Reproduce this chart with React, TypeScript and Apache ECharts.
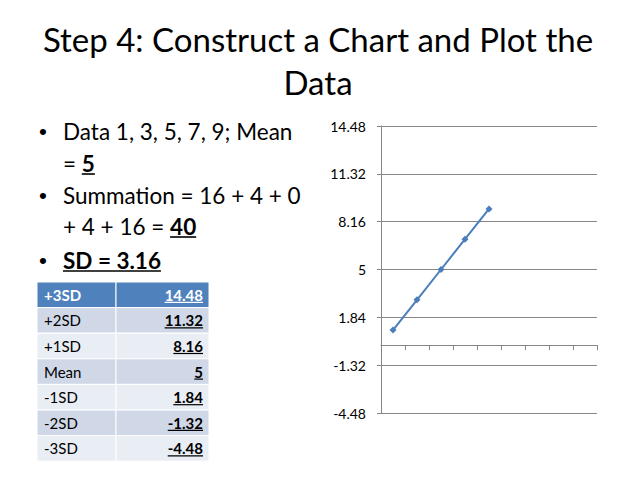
import React, { useEffect, useRef } from "react";
import * as echarts from "echarts";

// ---- data ----
const xCategories = ["1", "2", "3", "4", "5", "6", "7", "8", "9"];
const seriesValues = [1, 3, 5, 7, 9];
const yTickLabels = ["-4.48", "-1.32", "1.84", "5", "8.16", "11.32", "14.48"];
const tableLabels = ["+3SD", "+2SD", "+1SD", "Mean", "-1SD", "-2SD", "-3SD"];
const tableValues = ["14.48", "11.32", "8.16", "5", "1.84", "-1.32", "-4.48"];
const titleLines = ["Step 4: Construct a Chart and Plot the", "Data"];
type Seg = { t: string; b?: boolean; u?: boolean };
const bulletLines: { bullet: boolean; segs: Seg[] }[] = [
  { bullet: true, segs: [{ t: "Data 1, 3, 5, 7, 9; Mean" }] },
  { bullet: false, segs: [{ t: "= " }, { t: "5", b: true, u: true }] },
  { bullet: true, segs: [{ t: "Summation = 16 + 4 + 0" }] },
  { bullet: false, segs: [{ t: "+ 4 + 16 = " }, { t: "40", b: true, u: true }] },
  { bullet: true, segs: [{ t: "SD = 3.16", b: true, u: true }] },
];

const FONT = "Lato";

let measureCtx: CanvasRenderingContext2D | null = null;
function measure(text: string, size: number, bold: boolean): number {
  if (!measureCtx) measureCtx = document.createElement("canvas").getContext("2d");
  if (!measureCtx) return text.length * size * 0.5;
  measureCtx.font = `${bold ? "bold " : ""}${size}px ${FONT}`;
  return measureCtx.measureText(text).width;
}

function buildGraphics(): any[] {
  const els: any[] = [];
  // title
  const titleSize = 33;
  titleLines.forEach((line, i) => {
    els.push({
      type: "text",
      x: 318,
      y: 39 + i * 43,
      style: { text: line, fontFamily: FONT, fontSize: titleSize, fill: "#000", align: "center", verticalAlign: "middle" },
    });
  });
  // bullets
  const bSize = 22.5;
  const lineYs = [131, 163, 195, 226, 260];
  bulletLines.forEach((ln, i) => {
    const y = lineYs[i];
    if (ln.bullet) {
      els.push({
        type: "text",
        x: 43,
        y,
        style: { text: "•", fontFamily: "Arial", fontSize: bSize, fill: "#000", align: "center", verticalAlign: "middle" },
      });
    }
    let x = 63;
    ln.segs.forEach((s) => {
      const w = measure(s.t, bSize, !!s.b);
      els.push({
        type: "text",
        x,
        y,
        style: {
          text: s.t,
          fontFamily: FONT,
          fontSize: bSize,
          fontWeight: s.b ? "bold" : "normal",
          fill: "#000",
          align: "left",
          verticalAlign: "middle",
        },
      });
      if (s.u) {
        els.push({
          type: "line",
          shape: { x1: x, y1: y + 11, x2: x + w, y2: y + 11 },
          style: { stroke: "#000", lineWidth: 1.6 },
        });
      }
      x += w;
    });
  });
  // table
  const tx0 = 37, tx1 = 116, tx2 = 209, ty0 = 282, rh = 25.6;
  const tSize = 15;
  tableLabels.forEach((lab, i) => {
    const y = ty0 + i * rh;
    const fill = i === 0 ? "#4F81BD" : i % 2 === 1 ? "#D0D8E8" : "#E9EDF4";
    const txtColor = i === 0 ? "#fff" : "#000";
    els.push({ type: "rect", shape: { x: tx0, y, width: tx1 - tx0, height: rh }, style: { fill, stroke: "#fff", lineWidth: 1 } });
    els.push({ type: "rect", shape: { x: tx1, y, width: tx2 - tx1, height: rh }, style: { fill, stroke: "#fff", lineWidth: 1 } });
    const cy = y + rh / 2;
    els.push({
      type: "text",
      x: 44,
      y: cy,
      style: { text: lab, fontFamily: FONT, fontSize: tSize, fontWeight: i === 0 ? "bold" : "normal", fill: txtColor, align: "left", verticalAlign: "middle" },
    });
    const v = tableValues[i];
    const w = measure(v, tSize, true);
    els.push({
      type: "text",
      x: 203,
      y: cy,
      style: { text: v, fontFamily: FONT, fontSize: tSize, fontWeight: "bold", fill: txtColor, align: "right", verticalAlign: "middle" },
    });
    els.push({
      type: "line",
      shape: { x1: 203 - w, y1: cy + 7.5, x2: 203, y2: cy + 7.5 },
      style: { stroke: txtColor, lineWidth: 1.2 },
    });
  });
  return els;
}

export default function App() {
  const ref = useRef<HTMLDivElement>(null);
  useEffect(() => {
    if (!ref.current) return;
    const chart = echarts.init(ref.current, undefined, { renderer: "svg" });
    const yVals = yTickLabels.map(Number);
    chart.setOption({
      animation: false,
      backgroundColor: "#fff",
      grid: { left: 381, right: 41, top: 126, bottom: 65, containLabel: false },
      xAxis: {
        type: "category",
        data: xCategories,
        boundaryGap: true,
        axisLine: { show: true, onZero: true, lineStyle: { color: "#868686", width: 1 } },
        axisTick: { show: true, length: 5, lineStyle: { color: "#868686" } },
        axisLabel: { show: false },
        splitLine: { show: false },
      },
      yAxis: {
        type: "value",
        min: yVals[0],
        max: yVals[yVals.length - 1],
        axisLine: { show: true, lineStyle: { color: "#868686", width: 1 } },
        axisTick: { show: true, length: 4, customValues: yVals, lineStyle: { color: "#868686" } },
        axisLabel: {
          customValues: yVals,
          formatter: (v: number) => {
            const idx = yVals.findIndex((t) => Math.abs(t - v) < 1e-6);
            return idx >= 0 ? yTickLabels[idx] : String(v);
          },
          fontFamily: FONT,
          fontSize: 14,
          color: "#000",
          margin: 15,
        },
        splitLine: { show: true, lineStyle: { color: "#868686", width: 1 } },
      },
      series: [
        {
          type: "line",
          data: seriesValues,
          symbol: "diamond",
          symbolSize: 7,
          showSymbol: true,
          color: "#4A7EBB",
          lineStyle: { color: "#4A7EBB", width: 2 },
          itemStyle: { color: "#4A7EBB" },
        },
      ],
      graphic: buildGraphics(),
    });
    return () => chart.dispose();
  }, []);
  return <div ref={ref} style={{ position: "absolute", left: 0, top: 0, width: 638, height: 478 }} />;
}
